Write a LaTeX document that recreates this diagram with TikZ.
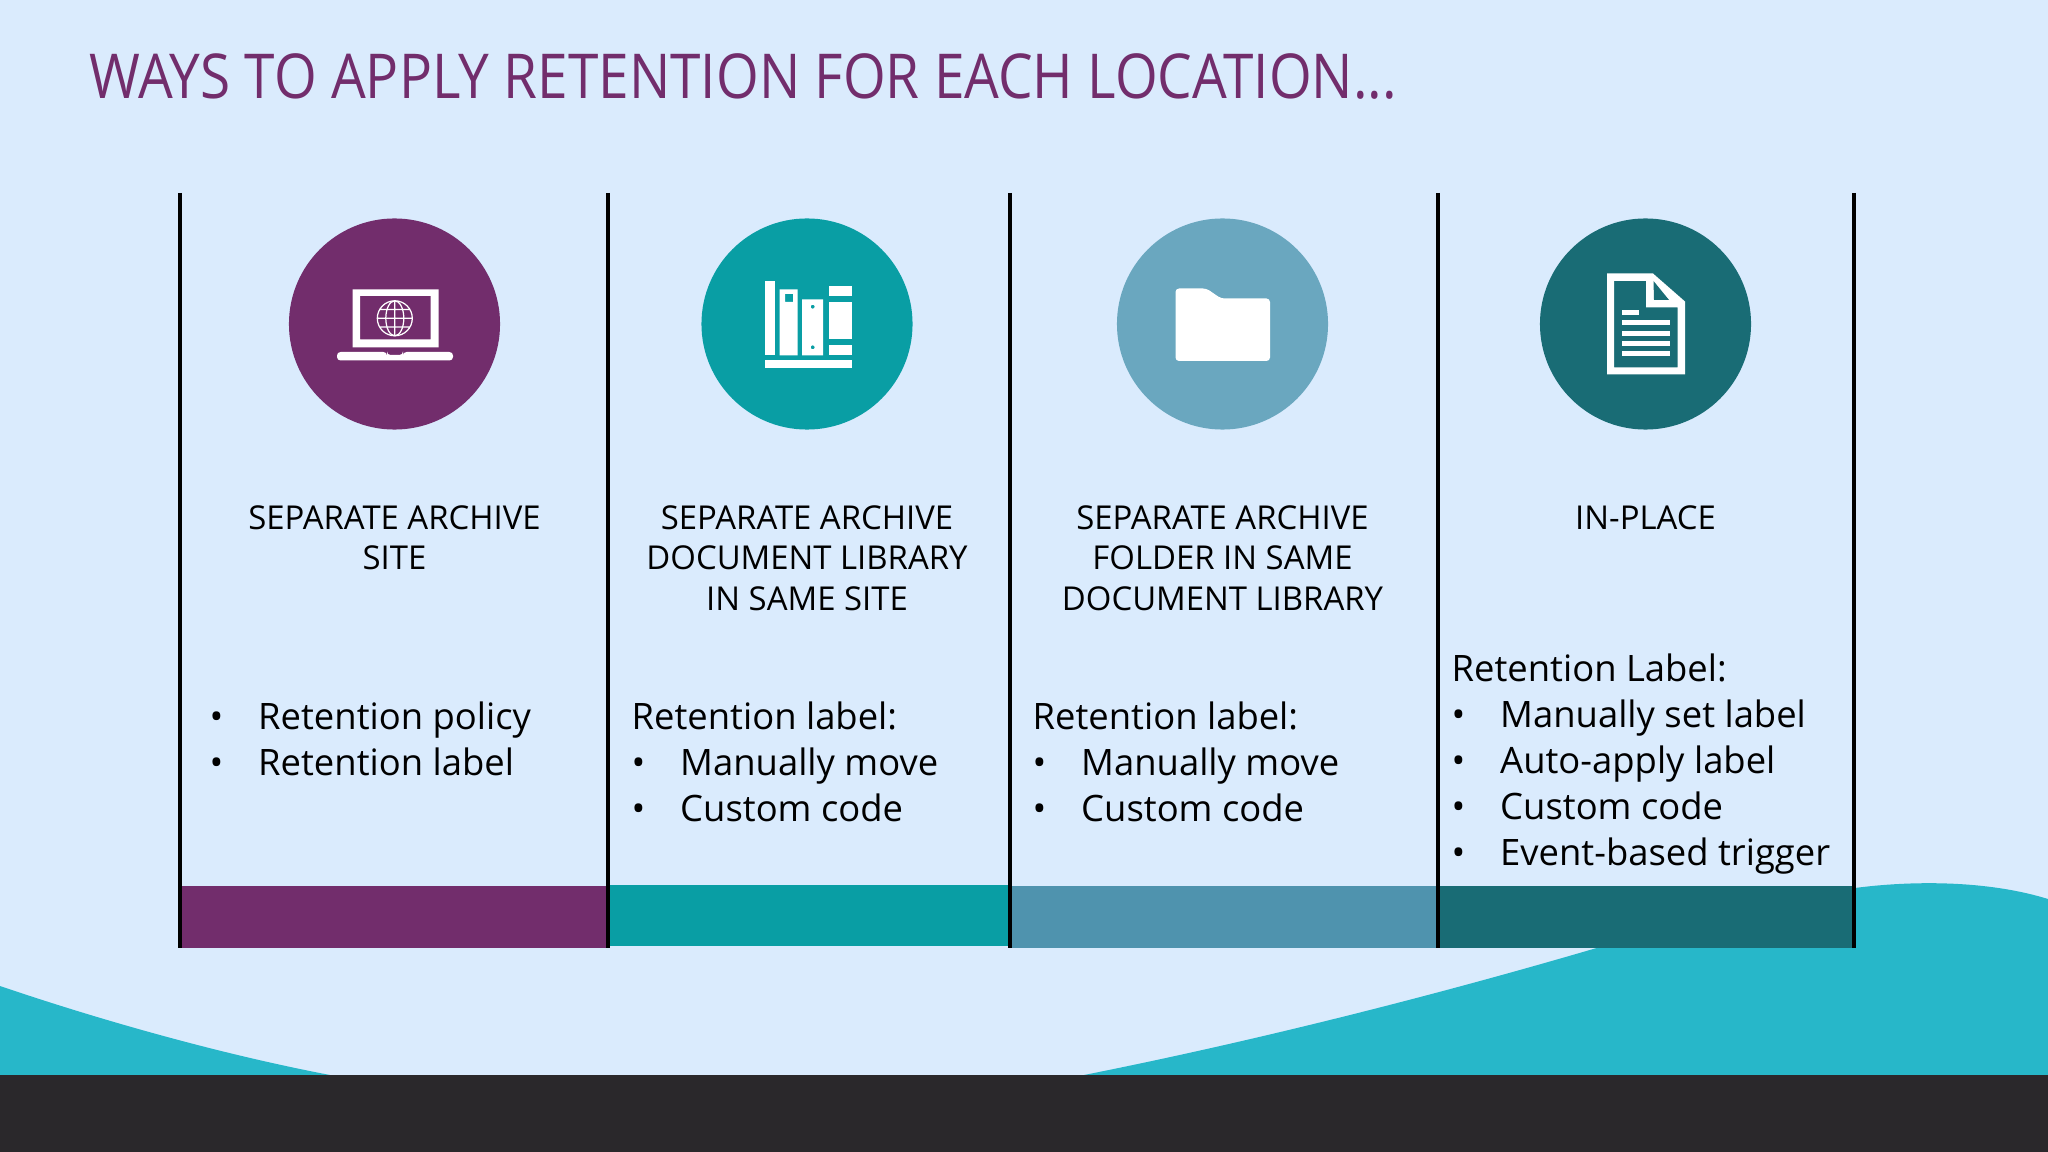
\documentclass[tikz,border=0pt]{standalone}
\usepackage{fontspec}
\usepackage{xcolor}
\setmainfont{Open Sans}
\newfontfamily\titlefont{Open Sans}[FakeStretch=0.887]
\definecolor{bgblue}{HTML}{DAEBFD}
\definecolor{wavecol}{HTML}{27B7C9}
\definecolor{darkbar}{HTML}{2A282B}
\definecolor{plum}{HTML}{722D6C}
\definecolor{teal1}{HTML}{099EA4}
\definecolor{slate1}{HTML}{6AA7BF}
\definecolor{slate2}{HTML}{4F93AE}
\definecolor{teal2}{HTML}{196C75}
\newcommand{\bul}{\makebox[13.8pt][l]{\textbullet}}
\tikzset{
  disc/.style={circle, minimum size=211*0.2845pt, inner sep=0pt},
  heading/.style={anchor=north, align=center, inner sep=0pt, text=black, font=\fontsize{9.35}{11.6}\selectfont},
  items/.style={anchor=north west, align=left, inner sep=0pt, text=black, font=\fontsize{10.35}{13.1}\selectfont},
  rule/.style={line width=1.15pt, black}
}
\begin{document}
\begin{tikzpicture}[x=0.01cm, y=-0.01cm]
        \useasboundingbox (0,0) rectangle (2048,1152);
        \fill[bgblue] (0,0) rectangle (2048,1152);

        % waves
        \fill[wavecol] (0,986) .. controls (100,1020) and (220,1054) .. (330,1075) -- (0,1075) -- cycle;
        \fill[wavecol] (1084,1075) .. controls (1250,1042) and (1430,997) .. (1600,947) .. controls (1680,922) and (1770,896) .. (1855,888) .. controls (1900,882) and (1980,878) .. (2048,899) -- (2048,1075) -- cycle;
        \fill[darkbar] (0,1075) rectangle (2048,1152);

        \node[anchor=base west, inner sep=0pt, text=plum, font=\titlefont\fontsize{17.6}{20}\selectfont] (title) at (89,99) {WAYS TO APPLY RETENTION FOR EACH LOCATION...};

        % bands
        \fill[plum] (180,886) rectangle (608,948);
        \fill[teal1] (608,885) rectangle (1010,946);
        \fill[slate2] (1010,886) rectangle (1438,948);
        \fill[teal2] (1438,886) rectangle (1854,948);

        % rules
        \foreach \x in {180,608,1010,1438,1854}
            \draw[rule] (\x,193) -- (\x,948);

        % discs
        \node[disc, fill=plum] (site) at (394.5,324) {};
        \node[disc, fill=teal1] (library) at (807,324) {};
        \node[disc, fill=slate1] (folder) at (1222.5,324) {};
        \node[disc, fill=teal2] (inplace) at (1645.5,324) {};

        % laptop
        \fill[white, even odd rule] (352.5,289.5) rectangle (438.5,347.5) (360,296) rectangle (430.5,339.5);
        \fill[white, rounded corners=1pt] (337,352) -- (387,352) -- (387,355) -- (403,355) -- (403,352) -- (453,352) -- (453,360.5) -- (337,360.5) -- cycle;
        \draw[white, line width=0.35pt] (394.8,318.3) circle (17.5) (394.8,300.8) -- (394.8,335.8) (377.3,318.3) -- (412.3,318.3) (379.5,309.5) -- (410,309.5) (379.5,327) -- (410,327);
        \draw[white, line width=0.35pt] (394.8,318.3) ellipse (9 and 17.5);

        % books
        \fill[white] (764.5,360) rectangle (851.5,368);
        \fill[white] (764.5,281.5) rectangle (775,355.5);
        \fill[white, even odd rule] (779.5,289.5) rectangle (797.5,355.5) (785,294) rectangle (793,302);
        \fill[white, even odd rule] (802,299.5) rectangle (823,355.5) (812.7,306.7) circle (2) (812.7,347.3) circle (2);
        \fill[white] (828.5,286) rectangle (851.5,296.5);
        \fill[white] (828.5,302) rectangle (851.5,339.5);
        \fill[white] (828.5,345) rectangle (851.5,355.5);

        % folder
        \fill[white, rounded corners=1pt] (1175.5,361) -- (1175.5,288.5) -- (1206.5,288.5) -- (1221,298.5) -- (1270,298.5) -- (1270,361) -- cycle;

        % document
        \fill[white, even odd rule] (1607,273.5) -- (1653,273.5) -- (1685,301.5) -- (1685,374.5) -- (1607,374.5) -- cycle
            (1614,281) -- (1646,281) -- (1646,307.5) -- (1677.5,307.5) -- (1677.5,367.5) -- (1614,367.5) -- cycle
            (1654,285.5) -- (1669,300) -- (1654,300) -- cycle;
        \fill[teal2] (1653.5,281) -- (1654,300) -- (1669,300) -- cycle;
        \fill[white] (1621.5,310.5) rectangle (1638.5,315.5);
        \foreach \y in {320.5,331,341,351.5}
            \fill[white] (1621.5,\y) rectangle (1670,\y+5);

        % headings
        \node[heading] (siteh) at (394.5,504.5) {SEPARATE ARCHIVE\\SITE};
        \node[heading] (libraryh) at (807,504.5) {SEPARATE ARCHIVE\\DOCUMENT LIBRARY\\IN SAME SITE};
        \node[heading] (folderh) at (1222.5,504.5) {SEPARATE ARCHIVE\\FOLDER IN SAME\\DOCUMENT LIBRARY};
        \node[heading] (inplaceh) at (1645.5,504.5) {IN-PLACE};

        % lists
        \node[items] (sitel) at (209,701) {\bul Retention policy\\\bul Retention label};
        \node[items] (libraryl) at (631,701) {Retention label:\\\bul Manually move\\\bul Custom code};
        \node[items] (folderl) at (1032,701) {Retention label:\\\bul Manually move\\\bul Custom code};
        \node[items] (inplacel) at (1451,653) {Retention Label:\\\bul Manually set label\\\bul Auto-apply label\\\bul Custom code\\\bul Event-based trigger};
\end{tikzpicture}
\end{document}
